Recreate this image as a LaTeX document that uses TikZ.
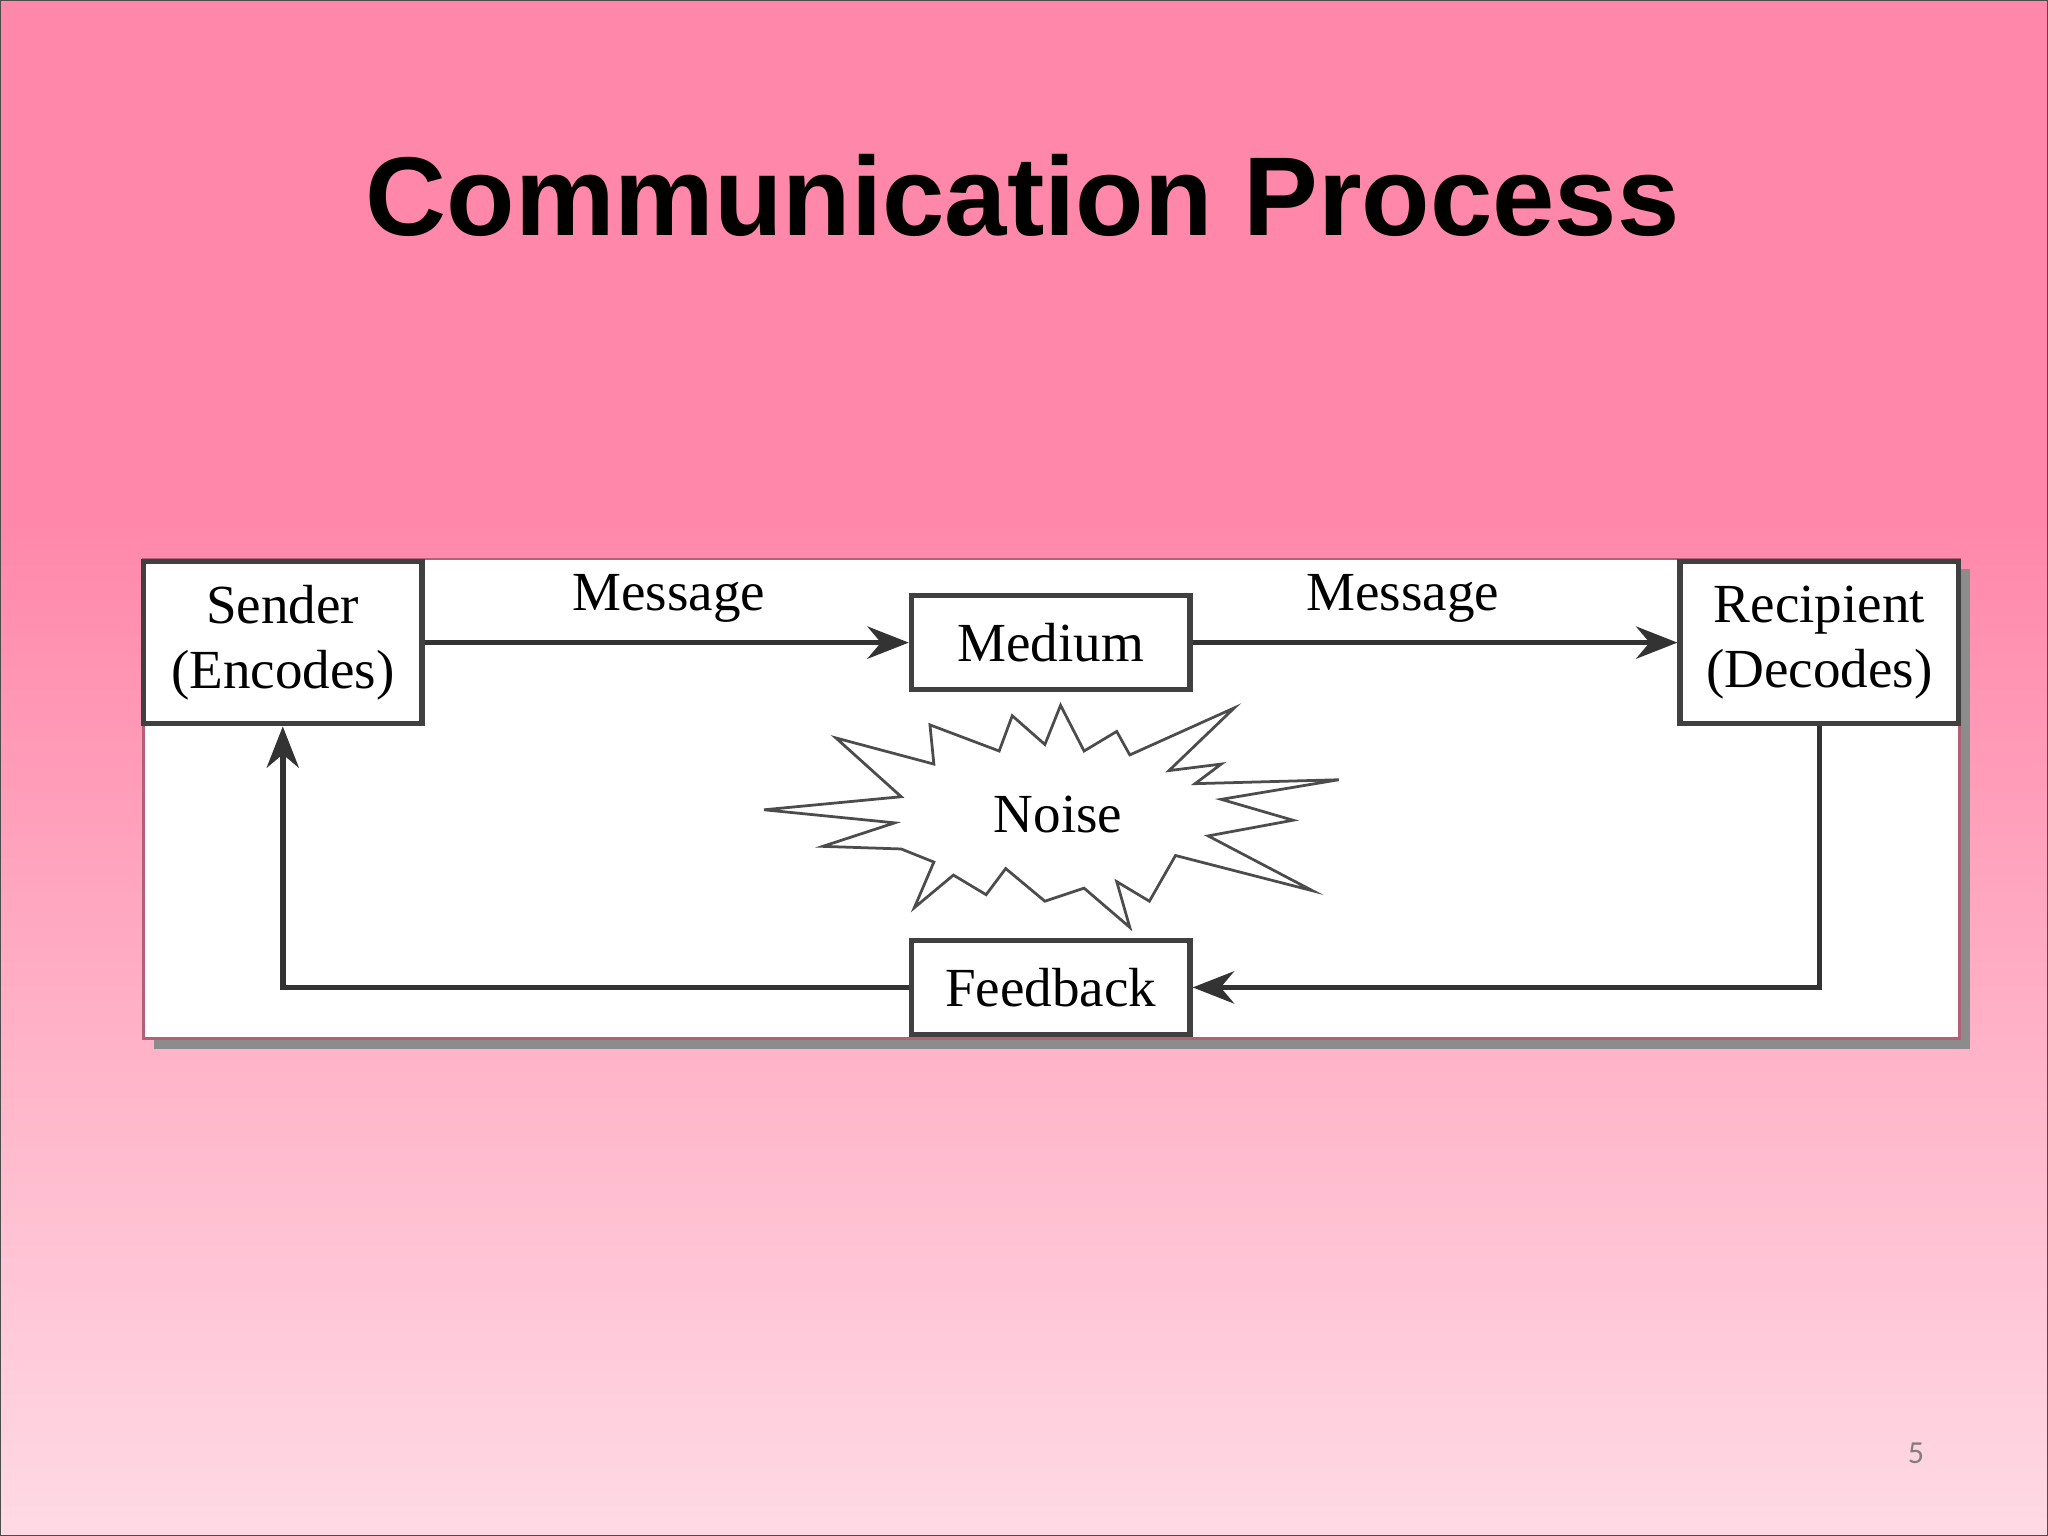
\documentclass[tikz,border=0pt]{standalone}
\usepackage{fontspec}
\setmainfont{Liberation Serif}
\newfontfamily\titlefont{Liberation Sans}
\newfontfamily\numfont{Carlito}
\usetikzlibrary{arrows.meta}
\definecolor{pinktop}{HTML}{FF88AA}
\definecolor{pinkbot}{HTML}{FFDAE5}
\tikzset{
  box/.style={draw=black!75, line width=1.2pt, fill=white, minimum width=2.13cm, align=center, font=\fontsize{12}{14}\selectfont, inner sep=2pt},
  conn/.style={draw=black!80, line width=1.2pt, -{Stealth[length=9pt,width=7pt]}},
  lbl/.style={font=\fontsize{12}{14}\selectfont}
}
\begin{document}
\begin{tikzpicture}[x=0.01cm,y=-0.01cm]
\useasboundingbox (0,0) rectangle (1568,1176);
\fill[pinktop] (0,0) rectangle (1568,400);
\shade[top color=pinktop, bottom color=pinkbot] (0,400) rectangle (1568,1176);
\draw[black!70] (0,0) rectangle (1568,1176);
\node[font=\titlefont\bfseries\fontsize{24.4}{30}\selectfont] (title) at (783,150) {Communication Process};
\node[font=\numfont\fontsize{7}{8}\selectfont, text=black!50] (num) at (1467,1113) {5};
% panel
\fill[black!45] (118,436) rectangle (1508,803);
\fill[white] (110,428) rectangle (1500,795);
\draw[pinktop!70!black, line width=0.6pt] (110,428) rectangle (1500,795);
% noise
\draw[black!70, fill=white, line width=0.6pt]
 (585,620) -- (690,610) -- (640,565) -- (715,585) -- (712,555) -- (765,575) -- (775,548) -- (800,570) -- (812,540) -- (830,575) -- (855,560) -- (865,578) -- (945,542) -- (895,590) -- (935,585) -- (915,600) -- (1025,597) -- (935,612) -- (990,628) -- (925,640) -- (1005,682) -- (900,655) -- (880,690) -- (855,675) -- (865,710) -- (830,680) -- (800,690) -- (770,665) -- (755,685) -- (730,670) -- (700,695) -- (715,660) -- (690,650) -- (630,648) -- (685,630) -- cycle;
\node[lbl] (noise) at (810,624) {Noise};
% boxes
\node[box, minimum height=1.24cm] (sender) at (216.5,492) {Sender\\(Encodes)};
\node[box, minimum height=0.72cm] (medium) at (804.5,492) {Medium};
\node[box, minimum height=1.24cm] (recip) at (1393,492) {Recipient\\(Decodes)};
\node[box, minimum height=0.72cm] (feed) at (804.5,756) {Feedback};
\draw[conn] (sender.east) -- (medium.west);
\draw[conn] (medium.east) -- (recip.west);
\draw[conn] (recip.south) |- (feed.east);
\draw[conn] (feed.west) -| (sender.south);
\node[lbl] (m1) at (512,458) {Message};
\node[lbl] (m2) at (1074,458) {Message};
\end{tikzpicture}
\end{document}
